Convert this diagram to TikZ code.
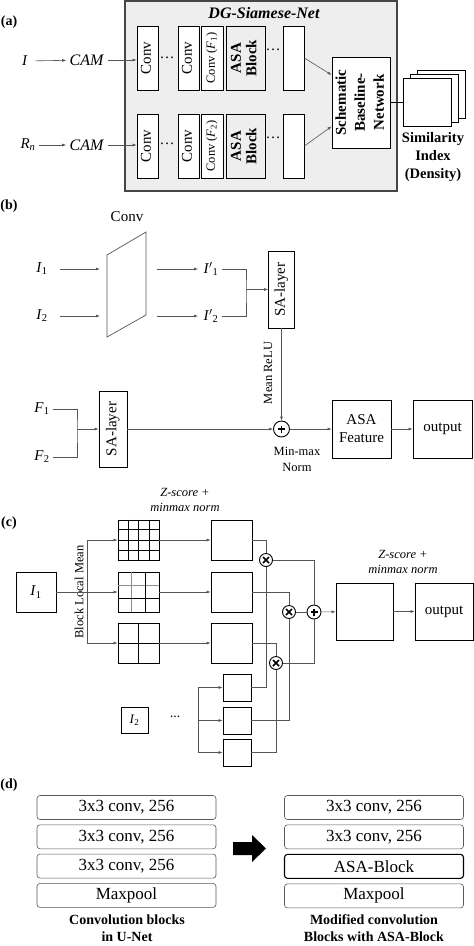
\documentclass[tikz,border=0pt]{standalone}
\usepackage{fontspec}
\setmainfont{Liberation Serif}
\usetikzlibrary{arrows.meta,positioning,calc}
\definecolor{siamGray}{RGB}{238,238,238}
\definecolor{siamEdge}{RGB}{70,70,70}
\definecolor{wireGray}{RGB}{85,85,85}
\newcommand{\vtext}[1]{\rotatebox{90}{\begin{tabular}{@{}c@{}}#1\end{tabular}}}
\newcommand{\isub}[2]{\textit{#1}\textsubscript{#2}}
\newcommand{\fsz}[2]{\fontsize{#1}{#2}\selectfont}

\tikzset{
  box/.style={draw, fill=white, line width=0.8pt, inner sep=0pt},
  wire/.style={draw=wireGray, line width=0.6pt},
  arr/.style={wire, -{Latex[length=4pt,width=3pt]}},
  tag/.style={font=\bfseries\fsz{14}{16}},
  opnode/.style={circle, draw, fill=white, line width=0.9pt, minimum size=13pt, inner sep=0pt},
  opplus/.style={opnode, path picture={\draw[line width=1.5pt]
      (path picture bounding box.center) +(-3.5pt,0) -- +(3.5pt,0)
      (path picture bounding box.center) +(0,-3.5pt) -- +(0,3.5pt);}},
  optimes/.style={opnode, path picture={\draw[line width=1.5pt]
      (path picture bounding box.center) +(-3pt,-3pt) -- +(3pt,3pt)
      (path picture bounding box.center) +(-3pt,3pt) -- +(3pt,-3pt);}},
  layer/.style={draw=black!65, rounded corners=3pt, line width=0.6pt, minimum width=179pt,
      minimum height=24pt, inner sep=0pt, font=\fsz{17}{19}},
}

\begin{document}
\begin{tikzpicture}[x=1pt, y=-1pt, font=\fsz{15}{17}]
\useasboundingbox (0,0) rectangle (474,946);

% ---- (a) DG-Siamese-Net
\node[tag] (tagA) at (9,22) {(a)};
\node[draw=siamEdge, fill=siamGray, line width=1.3pt, minimum width=272pt, minimum height=190pt, inner sep=0pt] (siam) at (261,96) {};
\node[font=\bfseries\itshape\fsz{16}{18}] (siamTitle) at (264,13) {DG-Siamese-Net};

\node[box, minimum width=21pt, minimum height=64pt] (convA1) at (147.5,58) {\vtext{Conv}};
\node[box, minimum width=21pt, minimum height=64pt] (convA2) at (188.5,58) {\vtext{Conv}};
\node[box, minimum width=22pt, minimum height=64pt, font=\fsz{12.5}{14}] (convA3) at (212,58) {\vtext{Conv (\textit{F}\textsubscript{1})}};
\node[box, fill=siamGray, minimum width=39pt, minimum height=64pt, font=\bfseries\fsz{15}{15.5}] (asaA) at (245.5,58) {\vtext{ASA\\Block}};
\node[box, minimum width=21pt, minimum height=64pt] (emptyA) at (293.5,58) {};
\node (dotsA1) at (167,58) {\dots};
\node (dotsA2) at (273,50) {\dots};

\node[box, minimum width=21pt, minimum height=64pt] (convB1) at (147.5,146) {\vtext{Conv}};
\node[box, minimum width=21pt, minimum height=64pt] (convB2) at (188.5,146) {\vtext{Conv}};
\node[box, minimum width=22pt, minimum height=64pt, font=\fsz{12.5}{14}] (convB3) at (212,146) {\vtext{Conv (\textit{F}\textsubscript{2})}};
\node[box, fill=siamGray, minimum width=39pt, minimum height=64pt, font=\bfseries\fsz{15}{15.5}] (asaB) at (245.5,146) {\vtext{ASA\\Block}};
\node[box, minimum width=21pt, minimum height=64pt] (emptyB) at (293.5,146) {};
\node (dotsB1) at (167,144) {\dots};
\node (dotsB2) at (273,138) {\dots};

\node[box, minimum width=58pt, minimum height=91pt, font=\bfseries\fsz{15}{19}] (sbn) at (361,102.5) {\vtext{Schematic\\Baseline-\\Network}};
\draw[arr] (emptyA.east) -- ($(sbn.north west)!0.2!(sbn.south west)$);
\draw[arr] (emptyB.east) -- ($(sbn.north west)!0.76!(sbn.south west)$);

\node[box, minimum size=48pt] (simC) at (441,94) {};
\node[box, minimum size=48pt] (simB) at (434,98) {};
\node[box, minimum size=48pt] (simA) at (427.5,102) {};
\draw[line width=1pt] (sbn.east) -- (simA.west |- sbn.east);
\node[font=\bfseries\fsz{14.5}{18}, align=center] (simLbl) at (433,157) {Similarity\\Index\\(Density)};

\node (inI) at (25,61) {\textit{I}};
\node[font=\fsz{16}{18}] (camI) at (87,60) {\textit{CAM}};
\node (inR) at (28,145) {\isub{R}{\textit{n}}};
\node[font=\fsz{16}{18}] (camR) at (87,145) {\textit{CAM}};
\draw[arr, shorten <=4pt] (inI) -- (camI);
\draw[arr] (camI) -- (camI -| convA1.west);
\draw[arr] (inR) -- (camR);
\draw[arr] (camR) -- (camR -| convB1.west);

% ---- (b) ASA block
\node[tag] (tagB) at (9,206) {(b)};
\node (convLbl) at (127,217) {Conv};
\coordinate (trTL) at (107,255); \coordinate (trTR) at (146,232);
\coordinate (trBR) at (146,315); \coordinate (trBL) at (107,337);
\draw[line width=0.7pt, draw=wireGray] (trTL) -- (trTR) -- (trBR) -- (trBL) -- cycle;

\node (inI1) at (42,269) {\isub{I}{1}};
\node (inI2) at (42,316) {\isub{I}{2}};
\draw[arr, shorten <=9pt, shorten >=7pt] (inI1) -- (inI1 -| trTL);
\draw[arr, shorten <=9pt, shorten >=7pt] (inI2) -- (inI2 -| trTL);
\node (inP1) at (211,269) {\textit{I}$'$\textsubscript{1}};
\node (inP2) at (211,316) {\textit{I}$'$\textsubscript{2}};
\draw[arr, shorten <=11pt, shorten >=2pt] (trTR |- inP1) -- (inP1);
\draw[arr, shorten <=11pt, shorten >=2pt] (trTR |- inP2) -- (inP2);

\coordinate (joinP) at (246,289.5);
\draw[wire] (inP1.east) -| (joinP) |- (inP2.east);
\node[box, minimum width=26pt, minimum height=77pt] (saTop) at (281.5,289.5) {\vtext{SA-layer}};
\draw[arr] (joinP) -- (saTop);

\node[opplus, minimum size=16pt] (plusB) at (281.5,429) {};
\draw[arr] (saTop) -- (plusB);
\node[rotate=90, font=\fsz{12.5}{14}] (meanLbl) at (268,373) {Mean ReLU};
\node[align=center, font=\fsz{12.5}{16}] (normLbl) at (297,459) {Min-max\\Norm};

\node (inF1) at (42,409) {\isub{F}{1}};
\node (inF2) at (42,457) {\isub{F}{2}};
\coordinate (joinF) at (77,429);
\draw[wire] (inF1.east) -| (joinF) |- (inF2.east);
\node[box, minimum width=28pt, minimum height=76pt] (saLow) at (113,429) {\vtext{SA-layer}};
\draw[arr] (joinF) -- (saLow);
\draw[arr] (saLow) -- (plusB);

\node[box, minimum width=59pt, minimum height=58pt, align=center, font=\fsz{15}{18}] (featB) at (361.5,429) {ASA\\Feature};
\node[box, minimum width=59pt, minimum height=58pt] (outB) at (442.5,429) {output};
\draw[arr] (plusB) -- (featB);
\draw[arr] (featB) -- (outB);

% ---- (c) block local mean
\node[tag] (tagC) at (9,523) {(c)};
\node[font=\itshape\fsz{12.5}{15}, align=center] (zLblA) at (185,500) {Z-score +\\minmax norm};
\node[box, minimum size=40pt] (i1c) at (36,592) {\isub{I}{1}};
\node[rotate=90, font=\fsz{12.5}{14}] (blmLbl) at (79,592) {Block Local Mean};

\node[box, minimum width=41pt, minimum height=40pt] (gA) at (138.5,540) {};
\node[box, minimum width=41pt, minimum height=40pt] (gB) at (138.5,592) {};
\node[box, minimum width=41pt, minimum height=40pt] (gC) at (138.5,643) {};
\foreach \f in {0.25,0.5,0.75} {
  \draw[line width=0.7pt] ($(gA.north west)!\f!(gA.north east)$) -- ($(gA.south west)!\f!(gA.south east)$);
  \draw[line width=0.7pt] ($(gA.north west)!\f!(gA.south west)$) -- ($(gA.north east)!\f!(gA.south east)$);
}
\foreach \f/\w/\c in {0.333/0.5pt/black!45, 0.667/1.1pt/black} {
  \draw[line width=\w, draw=\c] ($(gB.north west)!\f!(gB.north east)$) -- ($(gB.south west)!\f!(gB.south east)$);
  \draw[line width=\w, draw=\c] ($(gB.north west)!\f!(gB.south west)$) -- ($(gB.north east)!\f!(gB.south east)$);
}
\draw[line width=0.8pt] (gC.north) -- (gC.south) (gC.west) -- (gC.east);

\coordinate (busTopC) at (87,540);
\coordinate (busBotC) at (87,643);
\draw[wire] (busTopC) -- (busBotC);
\draw[arr] (i1c) -- (gB);
\draw[arr] (busTopC) -- (gA);
\draw[arr] (busBotC) -- (gC);

\node[box, minimum width=41pt, minimum height=40pt] (bA) at (231.5,540) {};
\node[box, minimum width=41pt, minimum height=40pt] (bB) at (231.5,592) {};
\node[box, minimum width=41pt, minimum height=40pt] (bC) at (231.5,643) {};
\draw[arr] (gA) -- (bA);
\draw[arr] (gB) -- (bB);
\draw[arr] (gC) -- (bC);

\node[box, minimum width=28pt, minimum height=27pt] (sA) at (237,687.5) {};
\node[box, minimum width=28pt, minimum height=27pt] (sB) at (237,720.5) {};
\node[box, minimum width=28pt, minimum height=27pt] (sC) at (237,752.5) {};

\node[optimes] (mulA) at (266,560) {};
\node[optimes] (mulB) at (289,612) {};
\node[optimes] (mulC) at (276,663) {};
\node[opplus, minimum size=14pt] (addC) at (314,612) {};
\draw[wire] (bA.east) -| (mulA.north);
\draw[wire] (bB.east) -| (mulB.north);
\draw[wire] (bC.east) -| (mulC.north);
\draw[wire] (sA.east) -| (mulA.south);
\draw[wire] (sB.east) -| (mulB.south);
\draw[wire] (sC.east) -| (mulC.south);
\draw[wire] (mulA.east) -| (addC.north);
\draw[wire] (mulB) -- (addC);
\draw[wire] (mulC.east) -| (addC.south);

\node[box, minimum width=57pt, minimum height=57pt] (bigC) at (364.5,611.5) {};
\node[font=\itshape\fsz{12.5}{15}, align=center] (zLblB) at (403,562) {Z-score +\\minmax norm};
\node[box, minimum width=58pt, minimum height=57pt] (outC) at (444,611.5) {output};
\draw[arr] (addC) -- (bigC);
\draw[arr] (bigC) -- (outC);

\node[box, minimum width=27pt, minimum height=26pt, font=\fsz{13}{15}] (i2c) at (134.5,720) {\isub{I}{2}};
\node[font=\bfseries] (dotsC) at (175,717) {\dots};
\coordinate (busTopS) at (198,687.5);
\coordinate (busBotS) at (198,752.5);
\draw[wire] (busTopS) -- (busBotS);
\draw[arr] (busTopS) -- (sA);
\draw[arr] (busTopS |- sB) -- (sB);
\draw[arr] (busBotS) -- (sC);

% ---- (d) conv blocks
\node[tag] (tagD) at (9,785) {(d)};
\node[layer] (cL1) at (126.5,807.5) {3x3 conv, 256};
\node[layer, below=4.7pt of cL1] (cL2) {3x3 conv, 256};
\node[layer, below=4.7pt of cL2] (cL3) {3x3 conv, 256};
\node[layer, below=4.7pt of cL3] (cL4) {Maxpool};
\node[layer] (cR1) at (374,807.5) {3x3 conv, 256};
\node[layer, below=4.7pt of cR1] (cR2) {3x3 conv, 256};
\node[layer, below=4.7pt of cR2, draw=black, line width=1.1pt] (cR3) {ASA-Block};
\node[layer, below=4.7pt of cR3] (cR4) {Maxpool};
\fill (233,842) -- (252,842) -- (252,835) -- (266,848.5) -- (252,862) -- (252,855) -- (233,855) -- cycle;

\node[font=\bfseries\fsz{14}{17}, align=center] (capL) at (127,928) {Convolution blocks\\in U-Net};
\node[font=\bfseries\fsz{14}{17}, align=center] (capR) at (374,928) {Modified convolution\\Blocks with ASA-Block};
\end{tikzpicture}
\end{document}
